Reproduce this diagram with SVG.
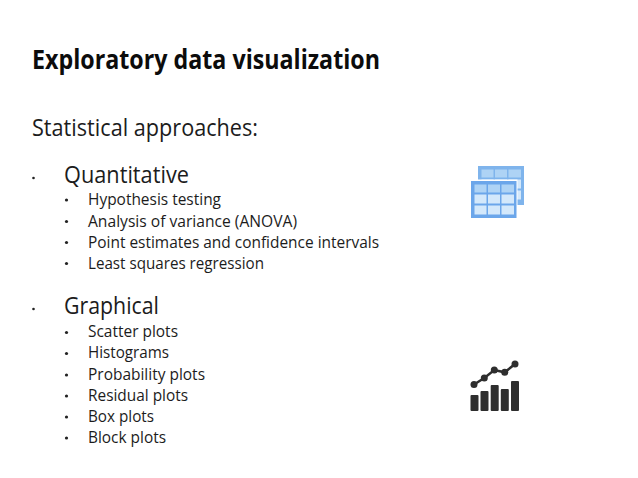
<svg xmlns="http://www.w3.org/2000/svg" width="638" height="478" viewBox="0 0 638 478">
<style>
text{font-family:"Open Sans","Lato","Liberation Sans",sans-serif;font-variant-ligatures:none;fill:#1c1c1c}
.t{font-size:26px;font-weight:700;fill:#0c0c0c}
.h{font-size:24px}
.l1{font-size:24px}
.l2{font-size:16px}
.b{fill:#222}
.cell{fill:#d3e8fb}
.hd{fill:#aed3f5}
.bar{fill:#2e2e2e}
</style>
<defs>
<g id="grid">
<rect x="3.500" y="3.500" width="12" height="8" class="hd"/>
<rect x="17" y="3.500" width="12" height="8" class="hd"/>
<rect x="30.500" y="3.500" width="12.500" height="8" class="hd"/>
<rect x="3.500" y="13.500" width="12" height="9" class="cell"/>
<rect x="17" y="13.500" width="12" height="9" class="cell"/>
<rect x="30.500" y="13.500" width="12.500" height="9" class="cell"/>
<rect x="3.500" y="24.500" width="12" height="9" class="cell"/>
<rect x="17" y="24.500" width="12" height="9" class="cell"/>
<rect x="30.500" y="24.500" width="12.500" height="9" class="cell"/>
</g>
</defs>
<rect width="638" height="478" fill="#fff"/>
<text class="t" x="32" y="69" textLength="348" lengthAdjust="spacingAndGlyphs">Exploratory data visualization</text>
<text class="h" x="32" y="136" textLength="226" lengthAdjust="spacingAndGlyphs">Statistical approaches:</text>
<circle class="b" cx="33.500" cy="178" r="1.300"/>
<text class="l1" x="64" y="183" textLength="125" lengthAdjust="spacingAndGlyphs">Quantitative</text>
<circle class="b" cx="66.500" cy="200" r="1.600"/>
<text class="l2" x="88" y="205" textLength="133" lengthAdjust="spacingAndGlyphs">Hypothesis testing</text>
<circle class="b" cx="66.500" cy="221.500" r="1.600"/>
<text class="l2" x="88" y="226.500" textLength="209" lengthAdjust="spacingAndGlyphs">Analysis of variance (ANOVA)</text>
<circle class="b" cx="66.500" cy="242.500" r="1.600"/>
<text class="l2" x="88" y="247.500" textLength="291" lengthAdjust="spacingAndGlyphs">Point estimates and confidence intervals</text>
<circle class="b" cx="66.500" cy="263.500" r="1.600"/>
<text class="l2" x="88" y="268.500" textLength="176" lengthAdjust="spacingAndGlyphs">Least squares regression</text>
<circle class="b" cx="33.500" cy="309" r="1.300"/>
<text class="l1" x="64" y="314" textLength="95" lengthAdjust="spacingAndGlyphs">Graphical</text>
<circle class="b" cx="66.500" cy="332.500" r="1.600"/>
<text class="l2" x="88" y="337" textLength="90" lengthAdjust="spacingAndGlyphs">Scatter plots</text>
<circle class="b" cx="66.500" cy="353.500" r="1.600"/>
<text class="l2" x="88" y="358" textLength="81" lengthAdjust="spacingAndGlyphs">Histograms</text>
<circle class="b" cx="66.500" cy="375" r="1.600"/>
<text class="l2" x="88" y="379.500" textLength="117" lengthAdjust="spacingAndGlyphs">Probability plots</text>
<circle class="b" cx="66.500" cy="396" r="1.600"/>
<text class="l2" x="88" y="400.500" textLength="100" lengthAdjust="spacingAndGlyphs">Residual plots</text>
<circle class="b" cx="66.500" cy="417" r="1.600"/>
<text class="l2" x="88" y="421.500" textLength="66" lengthAdjust="spacingAndGlyphs">Box plots</text>
<circle class="b" cx="66.500" cy="438" r="1.600"/>
<text class="l2" x="88" y="442.500" textLength="78" lengthAdjust="spacingAndGlyphs">Block plots</text>
<g id="table-icon">
<rect x="478" y="166" width="46" height="39" fill="#7fb4ec"/>
<use href="#grid" x="478" y="166"/>
<rect x="469.500" y="179.500" width="48" height="39" fill="#fff"/>
<rect x="471" y="181" width="45.500" height="37" fill="#6ba6ea"/>
<use href="#grid" x="471" y="181"/>
</g>
<g id="chart-icon">
<rect class="bar" x="470.500" y="395" width="8" height="16" rx="1"/>
<rect class="bar" x="480.500" y="391" width="8" height="20" rx="1"/>
<rect class="bar" x="490.700" y="385" width="8" height="26" rx="1"/>
<rect class="bar" x="500.800" y="389" width="8" height="22" rx="1"/>
<rect class="bar" x="511" y="381" width="8" height="30" rx="1"/>
<polyline points="474,384.500 484.300,378 494.300,370 504.700,372.300 515,364" fill="none" stroke="#2e2e2e" stroke-width="2.500"/>
<circle class="bar" cx="474" cy="384.500" r="3.500"/>
<circle class="bar" cx="484.300" cy="378" r="3.500"/>
<circle class="bar" cx="494.300" cy="370" r="3.500"/>
<circle class="bar" cx="504.700" cy="372.300" r="3.500"/>
<circle class="bar" cx="515" cy="364" r="3.500"/>
</g>
</svg>
